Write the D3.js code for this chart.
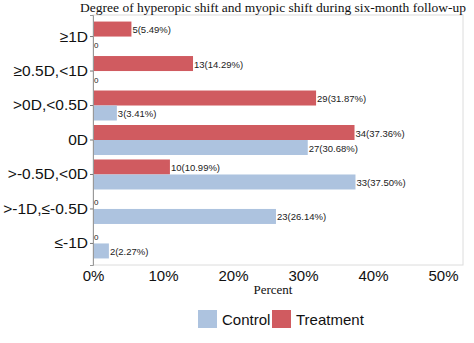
<!DOCTYPE html>
<html>
<head>
<meta charset="utf-8">
<script src="https://cdn.jsdelivr.net/npm/d3@7"></script>
<style>
body { margin: 0; background: #fff; }
</style>
</head>
<body>
<div id="chart"></div>
<script>
var svgWidth = 474;
var svgHeight = 343;

// data
var categories = ["≥1D", "≥0.5D,<1D", ">0D,<0.5D", "0D", ">-0.5D,<0D", ">-1D,≤-0.5D", "≤-1D"];
var treatmentN = [5, 13, 29, 34, 10, 0, 0];
var treatmentPct = [5.49, 14.29, 31.87, 37.36, 10.99, 0, 0];
var controlN = [0, 0, 3, 27, 33, 23, 2];
var controlPct = [0, 0, 3.41, 30.68, 37.50, 26.14, 2.27];
var xTicks = [0, 10, 20, 30, 40, 50];
var seriesNames = ["Treatment", "Control"];

var colors = { Treatment: "#d05b60", Control: "#adc3df" };

var plotLeft = 93, plotRight = 463, plotTop = 15, plotBottom = 265;

var svg = d3.select("#chart")
.append("svg")
.attr("width", svgWidth)
.attr("height", svgHeight)
.style("font-family", "Liberation Sans, Arial, sans-serif");

var x = d3.scaleLinear()
.domain([0, 52.86])
.range([plotLeft, plotRight]);

var y = d3.scaleBand()
.domain(categories)
.range([plotTop, plotBottom])
.paddingInner(0.13)
.paddingOuter(0.19);

var y1 = d3.scaleBand()
.domain(seriesNames)
.range([0, y.bandwidth()]);

// frame
svg.append("rect")
.attr("x", plotLeft)
.attr("y", plotTop)
.attr("width", plotRight - plotLeft)
.attr("height", plotBottom - plotTop)
.attr("fill", "none")
.attr("stroke", "#dcdcdc")
.attr("stroke-width", 1);

var rows = categories.map(function(c, i) {
  return [
    { cat: c, s: "Treatment", n: treatmentN[i], p: treatmentPct[i] },
    { cat: c, s: "Control", n: controlN[i], p: controlPct[i] }
  ];
});
var bars = [].concat.apply([], rows);

svg.selectAll("rect.bar").data(bars).enter()
.append("rect")
.attr("class", "bar")
.attr("x", x(0))
.attr("y", d => y(d.cat) + y1(d.s))
.attr("width", d => x(d.p) - x(0))
.attr("height", y1.bandwidth())
.attr("fill", d => colors[d.s]);

svg.selectAll("text.val").data(bars).enter()
.append("text")
.attr("class", "val")
.attr("x", d => x(d.p) + 1)
.attr("y", d => y(d.cat) + y1(d.s) + y1.bandwidth() / 2 + 4)
.attr("font-size", d => d.n === 0 ? 8 : 9.5)
.attr("fill", "#222")
.text(d => d.n === 0 ? "0" : d.n + "(" + d.p.toFixed(2) + "%)");

// y axis
var leftAxis = d3.axisLeft(y).tickSize(3).tickPadding(2);
var gy = svg.append("g")
.attr("transform", `translate(${plotLeft}, 0)`)
.call(leftAxis);
gy.select(".domain").attr("stroke", "#999");
gy.selectAll(".tick line").attr("stroke", "#777");
gy.selectAll("text")
.attr("font-size", 15.5)
.attr("font-family", "Liberation Sans, Arial, sans-serif")
.attr("fill", "#111");

// x axis
var bottomAxis = d3.axisBottom(x).tickValues(xTicks).tickFormat(d => d + "%").tickSize(0).tickPadding(5);
var gx = svg.append("g")
.attr("transform", `translate(0, ${plotBottom})`)
.call(bottomAxis);
gx.select(".domain").remove();
gx.selectAll("text")
.attr("font-size", 15)
.attr("font-family", "Liberation Sans, Arial, sans-serif")
.attr("fill", "#111");

// title and axis label
svg.append("text")
.attr("x", 273)
.attr("y", 12)
.attr("text-anchor", "middle")
.attr("font-family", "Liberation Serif, Times New Roman, serif")
.attr("font-size", 13.5)
.attr("fill", "#111")
.text("Degree of hyperopic shift and myopic shift during six-month follow-up");

svg.append("text")
.attr("x", 273)
.attr("y", 294)
.attr("text-anchor", "middle")
.attr("font-family", "Liberation Serif, Times New Roman, serif")
.attr("font-size", 13)
.attr("fill", "#111")
.text("Percent");

// legend
var legend = [
  { name: "Control", x: 198 },
  { name: "Treatment", x: 272 }
];
var lg = svg.selectAll("g.legend").data(legend).enter()
.append("g")
.attr("class", "legend")
.attr("transform", d => `translate(${d.x}, 310)`);
lg.append("rect")
.attr("width", 19)
.attr("height", 18)
.attr("fill", d => colors[d.name]);
lg.append("text")
.attr("x", 24)
.attr("y", 15)
.attr("font-size", 15)
.attr("fill", "#111")
.text(d => d.name);
</script>
</body>
</html>
